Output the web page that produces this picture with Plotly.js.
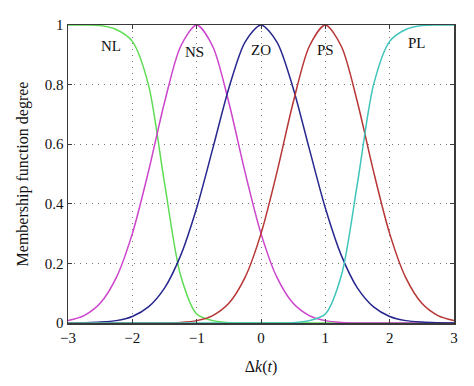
<!DOCTYPE html>
<html>
<head>
<meta charset="utf-8">
<script src="https://cdn.plot.ly/plotly-3.0.1.min.js"></script>
<style>html,body{margin:0;padding:0;background:#fff;}#chart{width:474px;height:386px;}</style>
</head>
<body>
<div id="chart"></div>
<script>
const xValues = [-3, -2.75, -2.5, -2.25, -2, -1.75, -1.5, -1.25, -1, -0.75, -0.5, -0.25, 0,
                 0.25, 0.5, 0.75, 1, 1.25, 1.5, 1.75, 2, 2.25, 2.5, 2.75, 3];
const seriesNames = ["NL", "NS", "ZO", "PS", "PL"];
const nlValues = [1, 1, 0.998, 0.985, 0.945, 0.80, 0.47, 0.16, 0.03, 0.008, 0.001, 0, 0,
                  0, 0, 0, 0, 0, 0, 0, 0, 0, 0, 0, 0];
const nsValues = [0.008, 0.025, 0.066, 0.152, 0.30, 0.508, 0.74, 0.928, 1, 0.928, 0.74, 0.508, 0.30,
                  0.152, 0.066, 0.025, 0.008, 0.002, 0, 0, 0, 0, 0, 0, 0];
const zoValues = [0, 0.001, 0.003, 0.008, 0.022, 0.054, 0.117, 0.226, 0.386, 0.585, 0.788, 0.942, 1,
                  0.942, 0.788, 0.585, 0.386, 0.226, 0.117, 0.054, 0.022, 0.008, 0.003, 0.001, 0];
const psValues = [0, 0, 0, 0, 0, 0, 0, 0.002, 0.008, 0.025, 0.066, 0.152, 0.30,
                  0.508, 0.74, 0.928, 1, 0.928, 0.74, 0.508, 0.30, 0.152, 0.066, 0.025, 0.008];
const plValues = [0, 0, 0, 0, 0, 0, 0, 0, 0, 0, 0, 0, 0,
                  0, 0.001, 0.008, 0.03, 0.16, 0.47, 0.80, 0.945, 0.985, 0.998, 1, 1];
const xTickVals = [-3, -2, -1, 0, 1, 2, 3];
const yTickVals = [0, 0.2, 0.4, 0.6, 0.8, 1];
const yTickText = ["0", "0.2", "0.4", "0.6", "0.8", "1"];

const allSeries = [nlValues, nsValues, zoValues, psValues, plValues];
const colors = ["#5fdc55", "#cc44cc", "#27278f", "#b83535", "#3fc4bc"];

const traces = allSeries.map((vals, i) => ({
  x: xValues, y: vals, type: "scatter", mode: "lines", name: seriesNames[i],
  line: {color: colors[i], width: 1.5, shape: "spline", smoothing: 0.8},
  hoverinfo: "skip"
}));

const labelPos = [[-2.33, 0.93], [-1.03, 0.91], [0, 0.915], [1.0, 0.915], [2.43, 0.94]];
const annotations = seriesNames.map((n, i) => ({
  x: labelPos[i][0], y: labelPos[i][1], xref: "x", yref: "y", text: n, showarrow: false,
  font: {family: "Liberation Serif, serif", size: 15, color: "#111"}
}));

const axisCommon = {
  showline: true, linecolor: "#3a3a3a", linewidth: 1.5, mirror: "ticks",
  ticks: "inside", ticklen: 4, tickcolor: "#3a3a3a", tickwidth: 1,
  showgrid: true, gridcolor: "#777", griddash: "1px,5px", gridwidth: 1,
  zeroline: false, tickfont: {family: "Liberation Serif, serif", size: 15, color: "#111"}
};

const layout = {
  width: 474, height: 386,
  margin: {l: 68, r: 20, t: 25, b: 63},
  paper_bgcolor: "#fff", plot_bgcolor: "#fff",
  showlegend: false,
  xaxis: Object.assign({}, axisCommon, {
    range: [-3, 3], tickvals: xTickVals,
    title: {text: "Δ<i>k</i>(<i>t</i>)", standoff: 16,
            font: {family: "Liberation Serif, serif", size: 16, color: "#111"}}
  }),
  yaxis: Object.assign({}, axisCommon, {
    range: [0, 1], tickvals: yTickVals, ticktext: yTickText,
    title: {text: "Membership function degree", standoff: 12,
            font: {family: "Liberation Serif, serif", size: 16, color: "#111"}}
  }),
  annotations: annotations
};

Plotly.newPlot("chart", traces, layout, {staticPlot: true, displayModeBar: false});
</script>
</body>
</html>
